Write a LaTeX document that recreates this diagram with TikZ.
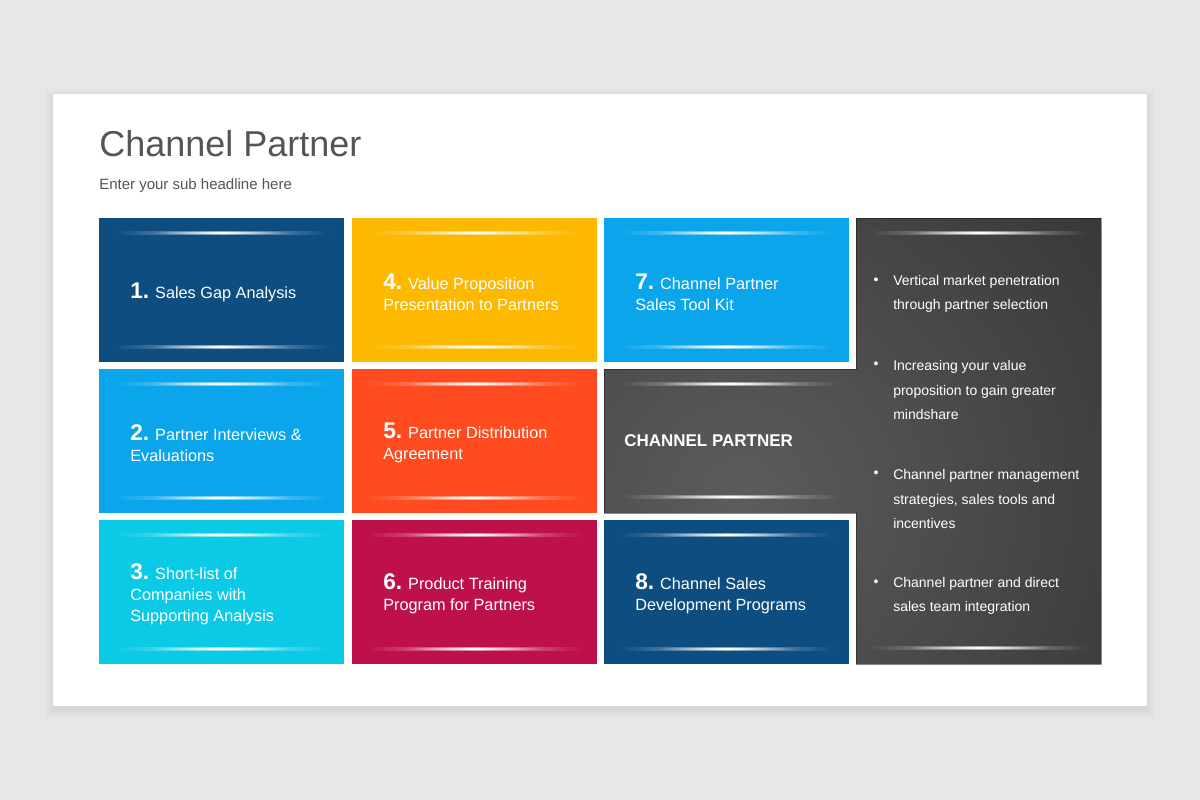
\documentclass[tikz,border=0pt]{standalone}
\usepackage{fontspec}
\setmainfont{Liberation Sans}
\usetikzlibrary{fadings}
\definecolor{bgc}{HTML}{E8E6E8}
\definecolor{titlec}{HTML}{555555}
\definecolor{navy}{HTML}{0E4D80}
\definecolor{amber}{HTML}{FDB900}
\definecolor{sky}{HTML}{0BA5EC}
\definecolor{redor}{HTML}{FF4B1F}
\definecolor{cyanb}{HTML}{0ACAE6}
\definecolor{crim}{HTML}{BE114B}
\definecolor{gdark}{HTML}{393939}
\definecolor{glight}{HTML}{5C5C5C}
\tikzfading[name=midfade, left color=transparent!100, right color=transparent!100, middle color=transparent!0]
\tikzset{
  boxtext/.style={anchor=west, align=left, text=white, inner sep=0pt, font=\fontsize{12.2}{15.75}\selectfont},
  bullettext/.style={anchor=west, align=left, text=white, inner sep=0pt, font=\fontsize{10.5}{18.4}\selectfont},
  dotnode/.style={anchor=center, text=white, inner sep=0pt, font=\fontsize{10.5}{12}\selectfont},
}
\newcommand{\glowline}[3]{%
  \fill[white, opacity=0.55, path fading=midfade] (#1,#3-1.6) rectangle (#2,#3+1.6);
  \fill[white, path fading=midfade] (#1+40,#3-1.1) rectangle (#2-40,#3+1.1);}
\newcommand{\numb}[1]{{\fontsize{17}{16.5}\selectfont\bfseries #1}}
\newcommand{\cbox}[5]{% name, x, y, color, text
  \fill[#4] (#2,#3) rectangle ++(245,144);
  \glowline{#2+15}{#2+230}{#3+15}
  \glowline{#2+15}{#2+230}{#3+129}
  \node[boxtext] (#1) at (#2+31,#3+74) {#5};
}
\begin{document}
\begin{tikzpicture}[x=0.75pt,y=-0.75pt]
\useasboundingbox (0,0) rectangle (1200,800);
\fill[bgc] (0,0) rectangle (1200,800);
% card shadow
\foreach \d in {1,2,...,8}{
  \fill[black, opacity=0.008] (53-\d,94-\d+4) rectangle (1147+\d,706+\d+4);
}
\fill[white] (53,94) rectangle (1147,706);
% titles
\node[anchor=base west, inner sep=0pt, text=titlec, font=\fontsize{27}{30}\selectfont] (title) at (99,156) {Channel Partner};
\node[anchor=base west, inner sep=0pt, text=titlec, font=\fontsize{11.25}{13}\selectfont] (sub) at (99,189) {Enter your sub headline here};
% colored boxes
\cbox{b1}{99}{218}{navy}{\numb{1.} Sales Gap Analysis}
\cbox{b4}{352}{218}{amber}{\numb{4.} Value Proposition\\Presentation to Partners}
\cbox{b7}{604}{218}{sky}{\numb{7.} Channel Partner\\Sales Tool Kit}
\cbox{b2}{99}{369}{sky}{\numb{2.} Partner Interviews \&\\Evaluations}
\cbox{b5}{352}{369}{redor}{\numb{5.} Partner Distribution\\Agreement}
\cbox{b3}{99}{520}{cyanb}{\numb{3.} Short-list of\\Companies with\\Supporting Analysis}
\cbox{b6}{352}{520}{crim}{\numb{6.} Product Training\\Program for Partners}
\cbox{b8}{604}{520}{navy}{\numb{8.} Channel Sales\\Development Programs}
% gray region
\begin{scope}
\clip (604,369) -- (856,369) -- (856,218) -- (1101,218) -- (1101,664) -- (856,664) -- (856,513) -- (604,513) -- cycle;
\fill[gdark] (600,214) rectangle (1105,668);
\shade[inner color=glight, outer color=gdark] (740,500) circle (450);
\end{scope}
\draw[black, opacity=0.35, line width=0.5pt] (604,369) -- (856,369) -- (856,218) -- (1101,218) -- (1101,664) -- (856,664) -- (856,513) -- (604,513) -- cycle;
\glowline{620}{840}{384}
\glowline{620}{840}{497}
\glowline{870}{1088}{233}
\glowline{870}{1088}{648}
\node[anchor=west, inner sep=0pt, text=white, font=\fontsize{12.75}{14}\selectfont\bfseries] (cp) at (624,441) {CHANNEL PARTNER};
% bullets
\node[dotnode] (d1) at (876,281) {•};
\node[bullettext] (t1) at (893,294) {Vertical market penetration\\through partner selection};
\node[dotnode] (d2) at (876,365) {•};
\node[bullettext] (t2) at (893,390) {Increasing your value\\proposition to gain greater\\mindshare};
\node[dotnode] (d3) at (876,474) {•};
\node[bullettext] (t3) at (893,499) {Channel partner management\\strategies, sales tools and\\incentives};
\node[dotnode] (d4) at (876,583) {•};
\node[bullettext] (t4) at (893,596) {Channel partner and direct\\sales team integration};
\end{tikzpicture}
\end{document}
